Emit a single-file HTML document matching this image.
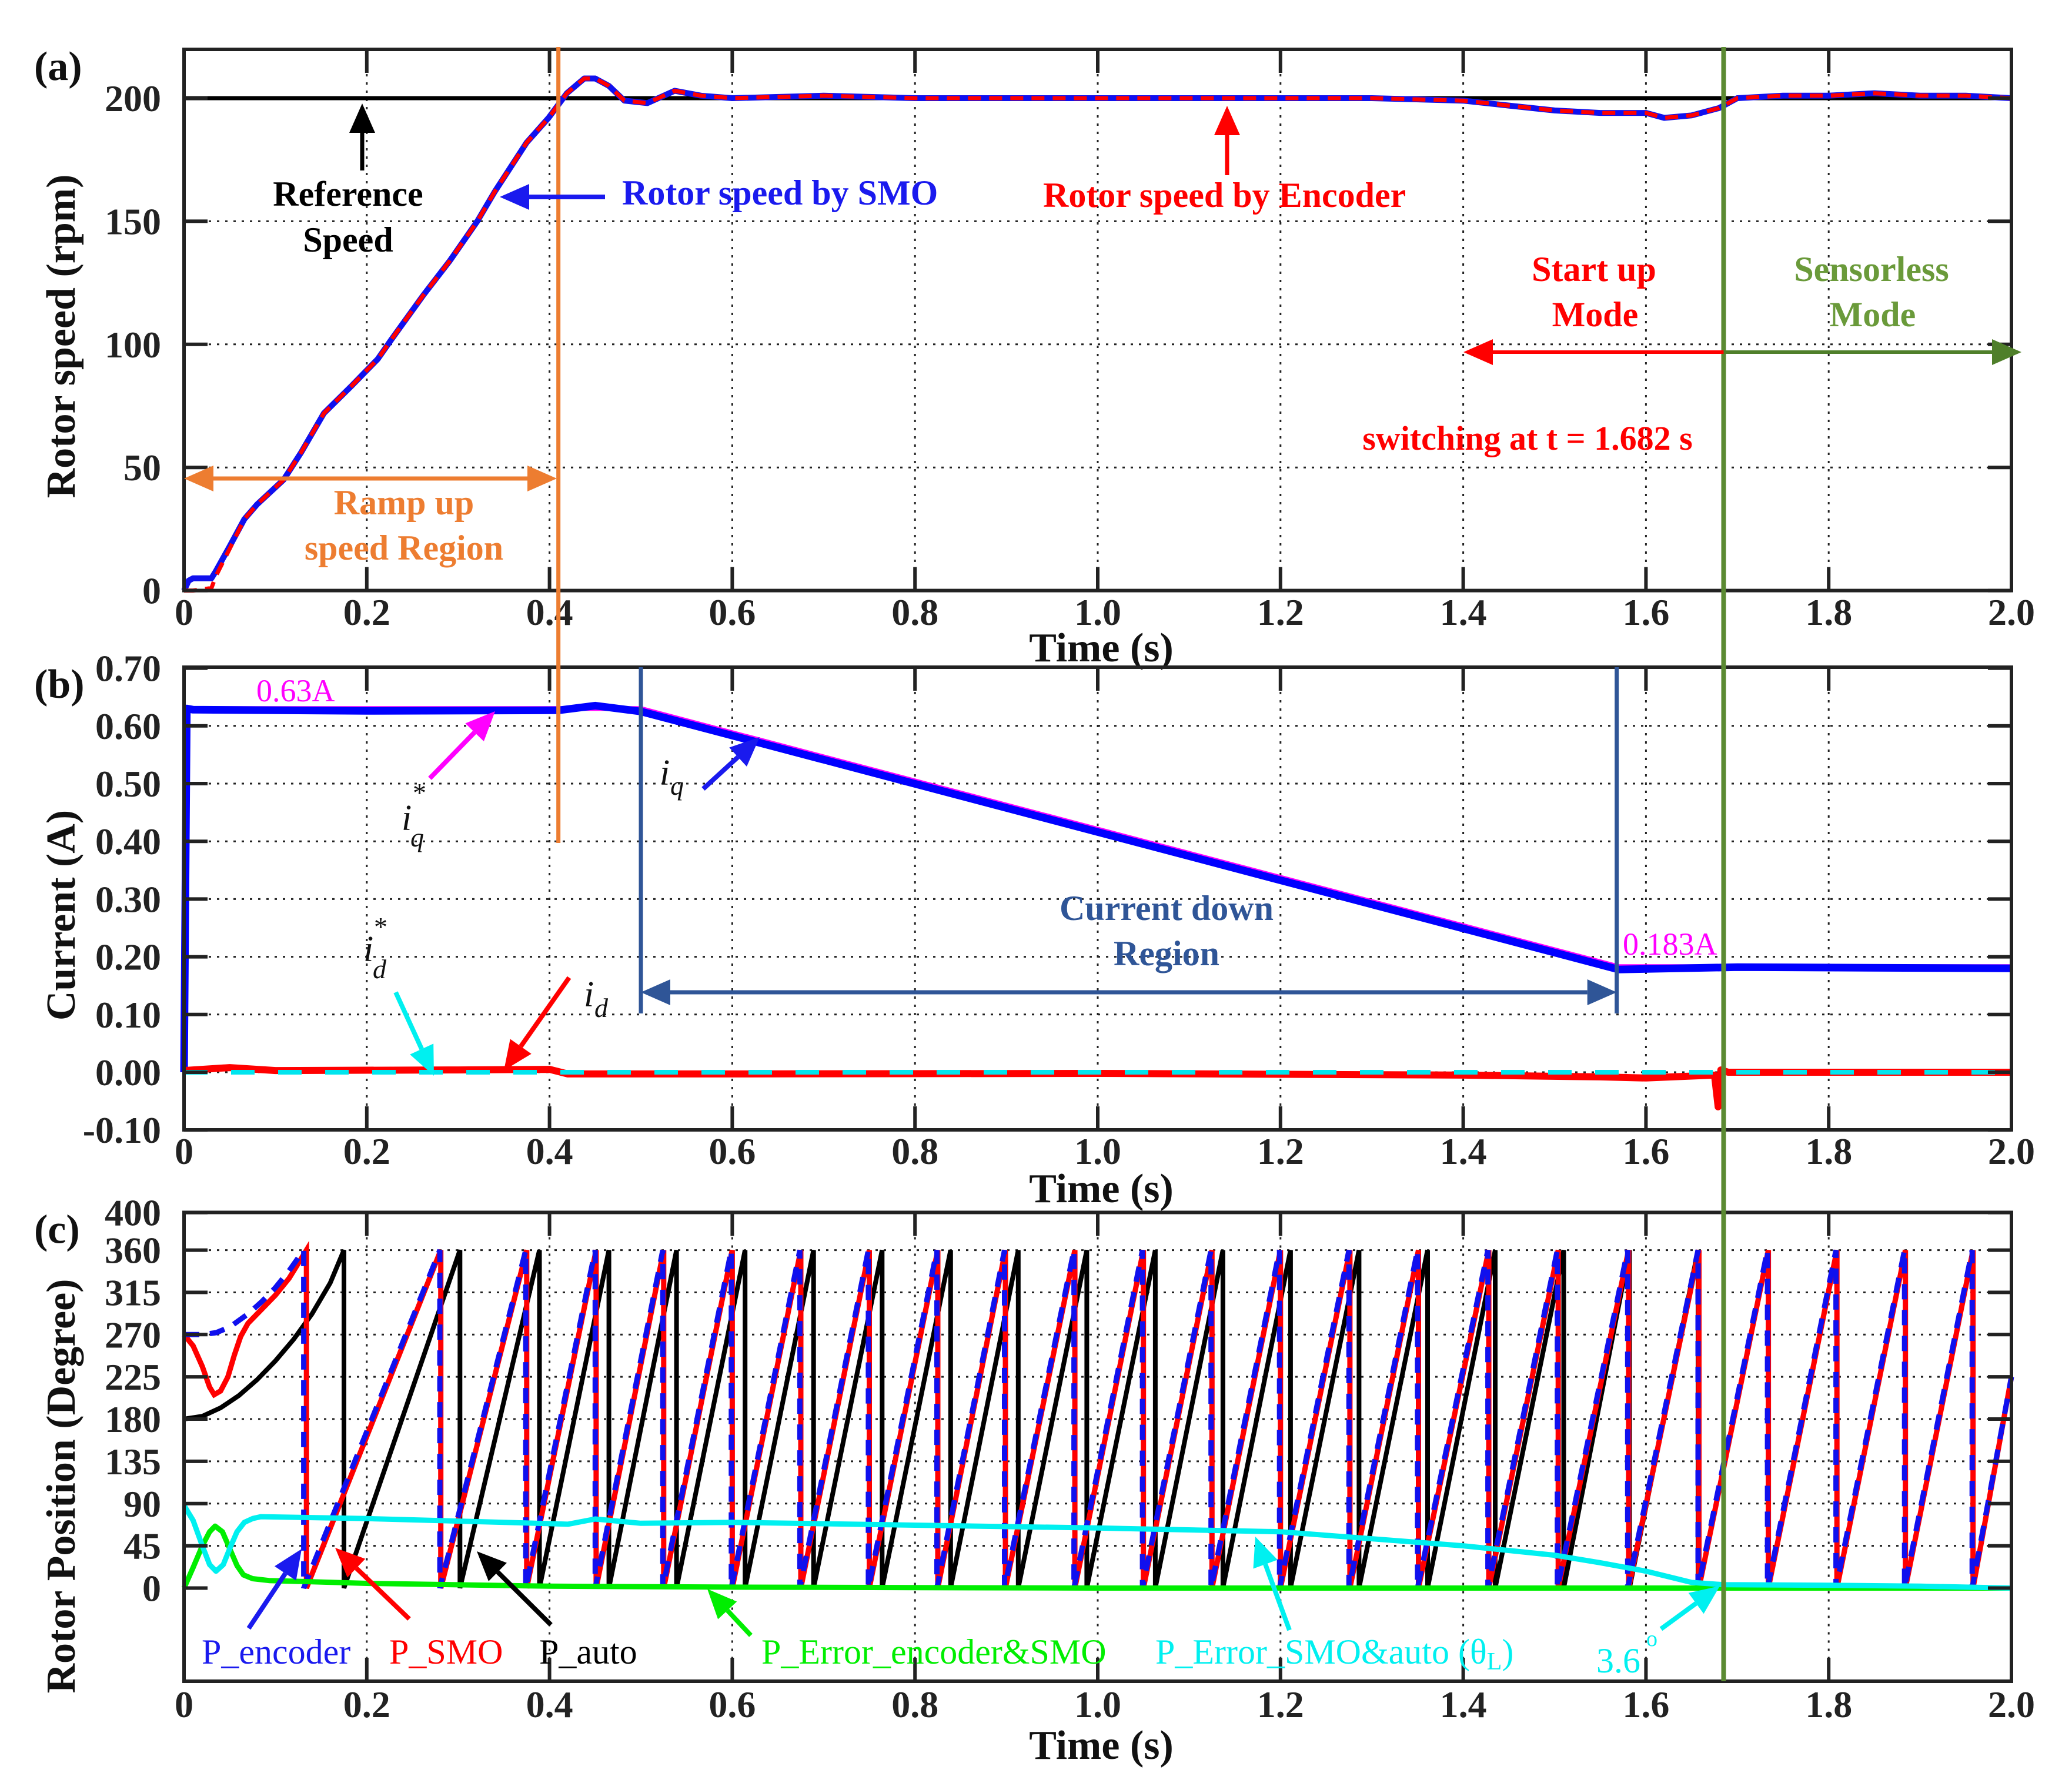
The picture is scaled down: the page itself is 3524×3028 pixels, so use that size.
<!DOCTYPE html>
<html><head><meta charset="utf-8"><style>
html,body{margin:0;padding:0;background:#fff}
svg{display:block}
text{font-family:"Liberation Serif","DejaVu Serif",serif}
.tk{font-size:64px;font-weight:bold;fill:#222}
.ttl{font-size:70px;font-weight:bold;fill:#111}
</style></head><body>
<svg id="chart" xmlns="http://www.w3.org/2000/svg" width="3524" height="3028" viewBox="0 0 3524 3028">
<g id="grid"></g><g id="marks"></g><g id="frame"></g><g id="ann"></g>
</svg>
<script>
// ---------- data ----------
const speedT   = [0,0.005,0.01,0.03,0.035,0.05,0.066,0.08,0.109,0.128,0.153,0.183,0.212,0.227,0.262,0.291,0.321,0.34,0.375,0.399,0.419,0.438,0.45,0.465,0.482,0.507,0.537,0.566,0.6,0.7,0.8,0.9,1.0,1.1,1.2,1.3,1.4,1.45,1.5,1.55,1.6,1.62,1.65,1.68,1.7,1.75,1.8,1.85,1.9,1.95,2.0];
const speedSMO = [0,4,5,5,8,18,29,35,45,56,72,83,94,102,120,134,150,162,182,192,202,208,208,205,199,198,203,201,200,201,200,200,200,200,200,200,199,197,195,194,194,192,193,196,200,201,201,202,201,201,200];
const speedEnc = [0,0,0,1,6,17,29,35,45,56,72,83,94,102,120,134,150,162,182,192,202,208,208,205,199,198,203,201,200,201,200,200,200,200,200,200,199,197,195,194,194,192,193,196,200,201,201,202,201,201,200];
const speedRef = 200;

const iqT    = [0,0.003,0.01,0.2,0.41,0.45,0.5,1.57,1.7,2.0];
const iqVals = [0,0.63,0.628,0.626,0.627,0.635,0.625,0.178,0.182,0.18];
const iqRefT = [0,0.003,0.5,1.57,2.0];
const iqRef  = [0.24,0.63,0.63,0.183,0.183];
const idT    = [0,0.05,0.1,0.3,0.4,0.42,0.6,1.0,1.4,1.55,1.6,1.675,1.679,1.682,1.69,2.0];
const idVals = [0.003,0.008,0.003,0.004,0.005,-0.003,-0.003,-0.002,-0.005,-0.008,-0.01,-0.005,-0.06,0.004,0,0];

const encStartT = [0,0.02,0.035,0.05,0.06,0.07,0.085,0.1,0.115,0.131];
const encStartV = [270,270,272,278,285,292,305,320,338,360];
const smoStartT = [0,0.01,0.02,0.028,0.033,0.04,0.048,0.055,0.062,0.07,0.085,0.1,0.115,0.134];
const smoStartV = [270,258,236,214,206,210,225,248,268,282,297,312,330,360];
const autoStartT = [0,0.02,0.04,0.06,0.08,0.1,0.12,0.14,0.16,0.175];
const autoStartV = [180,183,192,205,222,242,265,292,325,360];
const encDrops = [0.131,0.280,0.374,0.450,0.524,0.599,0.674,0.749,0.824,0.898,0.974,1.049,1.124,1.199,1.275,1.350,1.427,1.503,1.580,1.657,1.733,1.808,1.883,1.957];
const smoDrops = [0.134,0.281,0.375,0.451,0.525,0.600,0.675,0.750,0.825,0.899,0.975,1.050,1.125,1.200,1.276,1.351,1.428,1.504,1.581,1.658,1.734,1.809,1.884,1.958];
const autoDrops = [0.175,0.302,0.389,0.465,0.539,0.614,0.689,0.764,0.839,0.913,0.988,1.063,1.137,1.211,1.286,1.361,1.435,1.510,1.582,1.657];
const endVal = 225;
const errEncT = [0,0.01,0.02,0.028,0.034,0.042,0.05,0.058,0.065,0.075,0.093,0.2,0.4,0.6,0.8,1.0,2.0];
const errEncV = [0,22,45,60,66,60,42,24,14,10,8,5,2,1,0.5,0,0];
const errAutoT = [0,0.01,0.02,0.028,0.035,0.043,0.05,0.058,0.066,0.075,0.084,0.2,0.4,0.42,0.45,0.5,0.6,0.8,1.0,1.2,1.4,1.5,1.55,1.6,1.65,1.685,1.8,1.9,2.0];
const errAutoV = [88,72,45,25,18,25,42,60,70,74,76,74,68.6,68,73.6,69,70,67,64,60,45,35,27,18,6,3.6,3,2,0];

const xTicks = [0,0.2,0.4,0.6,0.8,1.0,1.2,1.4,1.6,1.8,2.0];
const xTickLabels = ["0","0.2","0.4","0.6","0.8","1.0","1.2","1.4","1.6","1.8","2.0"];
const aTicks = [0,50,100,150,200];
const bTicks = [-0.1,0,0.1,0.2,0.3,0.4,0.5,0.6,0.7];
const bTickLabels = ["-0.10","0.00","0.10","0.20","0.30","0.40","0.50","0.60","0.70"];
const cTicks = [0,45,90,135,180,225,270,315,360,400];

// ---------- scales ----------
const X = t => 313 + t*1554;
const Ya = v => 1004.6 - v*4.188;
const Yb = i => 1824 - i*982;
const Yc = d => 2701.5 - d*1.597;
const L=313, R=3421;
const NS="http://www.w3.org/2000/svg";
function mk(tag, attrs, parent, txt){
  const e=document.createElementNS(NS,tag);
  for(const k in attrs) e.setAttribute(k,attrs[k]);
  if(txt!==undefined) e.textContent=txt;
  document.getElementById(parent).appendChild(e);
  return e;
}
function pts(ts,vs,Y){return ts.map((t,i)=>X(t).toFixed(1)+","+Y(vs[i]).toFixed(1)).join(" ");}

// ---------- panels ----------
const panels=[
 {id:"a",top:84,bot:1004.6,Y:Ya,ticks:aTicks,labels:aTicks.map(String),grid:[50,100,150],xl:1063,tl:1125,title:"Rotor speed (rpm)",tcy:572},
 {id:"b",top:1135,bot:1922,Y:Yb,ticks:bTicks,labels:bTickLabels,grid:[0,0.1,0.2,0.3,0.4,0.5,0.6],xl:1980,tl:2045,title:"Current (A)",tcy:1557},
 {id:"c",top:2062.5,bot:2860,Y:Yc,ticks:cTicks,labels:cTicks.map(String),grid:[45,90,135,180,225,270,315,360],xl:2921,tl:2992,title:"Rotor Position (Degree)",tcy:2528}
];
panels.forEach(p=>{
  p.grid.forEach(v=>{
    const g=mk("line",{x1:L,x2:R,y1:p.Y(v),y2:p.Y(v),stroke:"#222","stroke-width":3,"stroke-dasharray":"4 10"},"grid");
    
    
  });
  xTicks.slice(1,-1).forEach(t=>{
    const g=mk("line",{x1:X(t),x2:X(t),y1:p.top,y2:p.bot,stroke:"#222","stroke-width":3,"stroke-dasharray":"4 10"},"grid");
    
    
  });
  const box=mk("rect",{x:L,y:p.top,width:R-L,height:p.bot-p.top,fill:"none",stroke:"#222","stroke-width":6},"frame");
  
  
  p.ticks.forEach((v,i)=>{
    const y=p.Y(v);
    mk("line",{x1:L,x2:L+40,y1:y,y2:y,stroke:"#222","stroke-width":6},"frame");
    mk("line",{x1:R-40,x2:R,y1:y,y2:y,stroke:"#222","stroke-width":6},"frame");
    const tl=mk("text",{x:274,y:y+22,"text-anchor":"end",class:"tk"},"frame",p.labels[i]);
    
    
  });
  xTicks.forEach((t,i)=>{
    mk("line",{x1:X(t),x2:X(t),y1:p.top,y2:p.top+40,stroke:"#222","stroke-width":6},"frame");
    mk("line",{x1:X(t),x2:X(t),y1:p.bot-40,y2:p.bot,stroke:"#222","stroke-width":6},"frame");
    const xl=mk("text",{x:X(t),y:p.xl,"text-anchor":"middle",class:"tk"},"frame",xTickLabels[i]);
    
    
  });
  const xt=mk("text",{x:1873,y:p.tl,"text-anchor":"middle",class:"ttl"},"frame","Time (s)");
  
  
  const yt=mk("text",{x:0,y:0,"text-anchor":"middle",class:"ttl",transform:`translate(127,${p.tcy}) rotate(-90)`},"frame",p.title);
  
  
  const pl=mk("text",{x:58,y:p.top+52,class:"ttl"},"frame","("+p.id+")");
  
  
});

// ---------- panel a marks ----------
let e;
e=mk("line",{x1:L,x2:R,y1:Ya(speedRef),y2:Ya(speedRef),stroke:"#000","stroke-width":7},"marks");


e=mk("polyline",{points:pts(speedT,speedSMO,Ya),fill:"none",stroke:"#1010ee","stroke-width":10,"stroke-linejoin":"round"},"marks");


e=mk("polyline",{points:pts(speedT,speedEnc,Ya),fill:"none",stroke:"#ff0000","stroke-width":7,"stroke-dasharray":"22 14"},"marks");



// ---------- panel b marks ----------
e=mk("polyline",{points:pts(iqRefT,iqRef,Yb),fill:"none",stroke:"#ff00ff","stroke-width":8},"marks");


e=mk("polyline",{points:pts(iqT,iqVals,Yb),fill:"none",stroke:"#0000ff","stroke-width":13,"stroke-linejoin":"round"},"marks");


e=mk("polyline",{points:pts(idT,idVals,Yb),fill:"none",stroke:"#ff0000","stroke-width":12,"stroke-linejoin":"round"},"marks");


e=mk("line",{x1:X(0),x2:X(2),y1:Yb(0),y2:Yb(0),stroke:"#00e5ee","stroke-width":8,"stroke-dasharray":"40 40"},"marks");



// ---------- panel c marks ----------
function saw(startT,startV,drops,endT,endV){
  const T=[...startT], V=[...startV];
  for(let i=0;i<drops.length;i++){
    T.push(drops[i]); V.push(0);
    if(i+1<drops.length){T.push(drops[i+1]); V.push(360);}
  }
  if(endT!==null){T.push(endT); V.push(endV);}
  return pts(T,V,Yc);
}
e=mk("polyline",{points:saw(autoStartT,autoStartV,autoDrops,null,0),fill:"none",stroke:"#000","stroke-width":8},"marks");


e=mk("polyline",{points:saw(smoStartT,smoStartV,smoDrops,2.0,endVal),fill:"none",stroke:"#ff0000","stroke-width":9},"marks");


e=mk("polyline",{points:saw(encStartT,encStartV,encDrops,2.0,endVal),fill:"none",stroke:"#1010ee","stroke-width":9,"stroke-dasharray":"26 18"},"marks");


e=mk("polyline",{points:pts(errEncT,errEncV,Yc),fill:"none",stroke:"#00ee00","stroke-width":9,"stroke-linejoin":"round"},"marks");


e=mk("polyline",{points:pts(errAutoT,errAutoV,Yc),fill:"none",stroke:"#00f0f0","stroke-width":9,"stroke-linejoin":"round"},"marks");



// ---------- annotations ----------
function arrow(x1,y1,x2,y2,col,w,name){
  const a=Math.atan2(y2-y1,x2-x1), h=50, s=22;
  const bx=x2-h*Math.cos(a), by=y2-h*Math.sin(a);
  const g=mk("g",{},"ann");
  
  
  const ln=document.createElementNS(NS,"line");
  ln.setAttribute("x1",x1);ln.setAttribute("y1",y1);ln.setAttribute("x2",bx);ln.setAttribute("y2",by);
  ln.setAttribute("stroke",col);ln.setAttribute("stroke-width",w);
  g.appendChild(ln);
  const pg=document.createElementNS(NS,"polygon");
  pg.setAttribute("points",`${x2},${y2} ${bx+s*Math.sin(a)},${by-s*Math.cos(a)} ${bx-s*Math.sin(a)},${by+s*Math.cos(a)}`);
  pg.setAttribute("fill",col);
  g.appendChild(pg);
}
function txt(x,y,s,col,size,bold,anchor,name,italic){
  const t=mk("text",{x:x,y:y,fill:col,"font-size":size,"font-weight":bold?"bold":"normal","text-anchor":anchor||"start","font-style":italic?"italic":"normal"},"ann",s);
  
  
  return t;
}
e=mk("line",{x1:X(0.4097),x2:X(0.4097),y1:80,y2:1434,stroke:"#ed7d31","stroke-width":7},"ann");


e=mk("line",{x1:X(1.685),x2:X(1.685),y1:80,y2:2860,stroke:"#5b8a32","stroke-width":8},"ann");


e=mk("line",{x1:X(0.5),x2:X(0.5),y1:1135,y2:1724,stroke:"#2f5597","stroke-width":7},"ann");


e=mk("line",{x1:X(1.568),x2:X(1.568),y1:1135,y2:1724,stroke:"#2f5597","stroke-width":7},"ann");



txt(592,350,"Reference","#000",60,true,"middle","reference-label");
txt(592,428,"Speed","#000",60,true,"middle","speed-label");
arrow(616,290,616,176,"#000",7,"reference-arrow");
arrow(1029,335,850,335,"#1a1aee",8,"smo-arrow");
txt(1058,348,"Rotor speed by SMO","#1a1aee",60,true,"start","smo-speed-label");
arrow(2087,298,2087,180,"#ff0000",7,"encoder-arrow");
txt(1774,352,"Rotor speed by Encoder","#ff0000",60,true,"start","encoder-speed-label");
txt(2711,478,"Start up","#ff0000",60,true,"middle","startup-label");
txt(2713,555,"Mode","#ff0000",60,true,"middle","startup-mode-label");
txt(3183,478,"Sensorless","#6a9a3a",60,true,"middle","sensorless-label");
txt(3185,555,"Mode","#6a9a3a",60,true,"middle","sensorless-mode-label");
arrow(X(1.685),599,2489,599,"#ff0000",6,"startup-arrow");
arrow(X(1.685),599,3438,599,"#4f7f2a",6,"sensorless-arrow");
txt(2598,765,"switching at t = 1.682 s","#ff0000",58,true,"middle","switching-label");
arrow(630,814,313,814,"#ed7d31",7,"ramp-arrow-left");
arrow(630,814,947,814,"#ed7d31",7,"ramp-arrow-right");
txt(687,875,"Ramp up","#ed7d31",60,true,"middle","ramp-label");
txt(687,952,"speed Region","#ed7d31",60,true,"middle","ramp-region-label");

txt(436,1193,"0.63A","#ff00ff",54,false,"start","iq-start-value");
arrow(731,1324,842,1210,"#ff00ff",8,"iq-ref-arrow");
txt(683,1412,"i","#111",62,false,"start","iq-ref-label",true);
txt(702,1364,"*","#111",46,false,"start","iq-ref-star");
txt(698,1440,"q","#111",46,false,"start","iq-ref-sub",true);
txt(1122,1335,"i","#111",62,false,"start","iq-label",true);
txt(1140,1352,"q","#111",46,false,"start","iq-sub",true);
arrow(1196,1342,1292,1254,"#1a1aee",8,"iq-arrow");
txt(618,1635,"i","#111",62,false,"start","id-ref-label",true);
txt(636,1592,"*","#111",46,false,"start","id-ref-star");
txt(634,1664,"d","#111",46,false,"start","id-ref-sub",true);
arrow(673,1688,738,1830,"#00f0f0",8,"id-ref-arrow");
txt(993,1712,"i","#111",62,false,"start","id-label",true);
txt(1011,1730,"d","#111",46,false,"start","id-sub",true);
arrow(968,1663,857,1821,"#ff0000",8,"id-arrow");
txt(1984,1565,"Current down","#2f5597",60,true,"middle","current-down-label");
txt(1984,1642,"Region","#2f5597",60,true,"middle","current-down-region-label");
arrow(1500,1688,X(0.5),1688,"#2f5597",7,"current-down-arrow-left");
arrow(1500,1688,X(1.568),1688,"#2f5597",7,"current-down-arrow-right");
txt(2760,1624,"0.183A","#ff00ff",54,false,"start","iq-end-value");

arrow(423,2770,513,2635,"#1a1aee",8,"encoder-pos-arrow");
arrow(696,2754,570,2633,"#ff0000",8,"smo-pos-arrow");
arrow(937,2764,811,2639,"#000",8,"auto-pos-arrow");
arrow(1277,2782,1203,2703,"#00ee00",8,"error-encoder-arrow");
arrow(2193,2773,2135,2614,"#00f0f0",8,"error-auto-arrow");
arrow(2825,2771,2925,2698,"#00f0f0",8,"angle-arrow");
txt(343,2830,"P_encoder","#1a1aee",60,false,"start","p-encoder-label");
txt(662,2830,"P_SMO","#ff0000",60,false,"start","p-smo-label");
txt(917,2830,"P_auto","#000",60,false,"start","p-auto-label");
txt(1295,2830,"P_Error_encoder&SMO","#00ee00",60,false,"start","p-error-encoder-label");
const ct=txt(1965,2830,"P_Error_SMO&auto (θ","#00f0f0",60,false,"start","p-error-auto-label");
const sub=document.createElementNS(NS,"tspan");sub.setAttribute("font-size","42");sub.setAttribute("dy","10");sub.textContent="L";ct.appendChild(sub);
const cl=document.createElementNS(NS,"tspan");cl.setAttribute("dy","-10");cl.textContent=")";ct.appendChild(cl);
txt(2715,2845,"3.6","#00f0f0",60,false,"start","angle-value-label");
txt(2800,2800,"o","#00f0f0",38,false,"start","angle-degree-mark");
</script>
</body></html>
